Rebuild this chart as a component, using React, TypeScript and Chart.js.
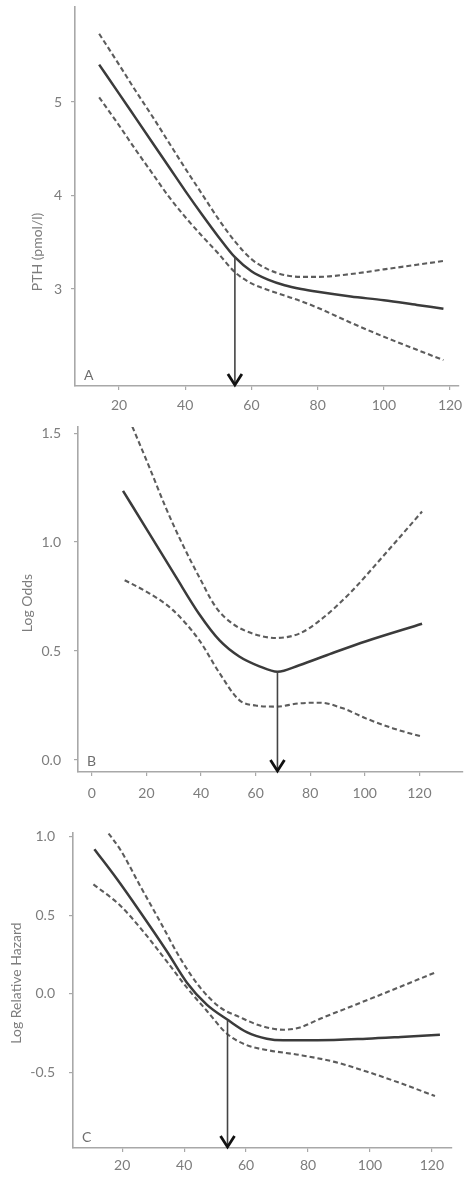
import React, { useEffect, useRef } from "react";
import { Chart, registerables } from "chart.js";

Chart.register(...registerables);

// ---------- Panel A : PTH (pmol/l) ----------
const aX = [14, 20, 25, 30, 35, 40, 45, 50, 55, 60, 65, 70, 75, 80, 90, 100, 110, 118];
const aFit = [5.40, 5.09, 4.83, 4.57, 4.31, 4.05, 3.80, 3.56, 3.34, 3.19, 3.10, 3.04, 3.00, 2.97, 2.92, 2.88, 2.83, 2.79];
const aUpper = [5.73, 5.40, 5.12, 4.85, 4.57, 4.29, 4.02, 3.75, 3.51, 3.32, 3.21, 3.15, 3.13, 3.13, 3.16, 3.21, 3.26, 3.30];
const aLower = [5.05, 4.75, 4.49, 4.24, 3.99, 3.77, 3.57, 3.38, 3.18, 3.06, 2.99, 2.93, 2.87, 2.80, 2.64, 2.49, 2.35, 2.24];
const aXTicks = [20, 40, 60, 80, 100, 120];
const aYTicks = [3, 4, 5];
const aArrow = { x: 55, y: 3.34 };

// ---------- Panel B : Log Odds ----------
const bFitX = [11.4, 21, 30.8, 39.3, 46.7, 54, 61.4, 68, 76, 88, 100.5, 121];
const bFit = [1.235, 1.04, 0.84, 0.67, 0.55, 0.475, 0.43, 0.405, 0.435, 0.49, 0.545, 0.625];
const bUpperX = [14.8, 21, 27, 33, 39.3, 45.5, 51.6, 59, 67.5, 76, 83.5, 94.5, 106.7, 121];
const bUpper = [1.53, 1.345, 1.16, 0.995, 0.84, 0.7, 0.625, 0.58, 0.56, 0.58, 0.64, 0.765, 0.935, 1.14];
const bLowerX = [12, 21, 29.5, 39.3, 46.7, 54, 60, 67.5, 76, 83.5, 92, 100.6, 110.4, 121];
const bLower = [0.825, 0.765, 0.69, 0.55, 0.4, 0.275, 0.25, 0.245, 0.26, 0.263, 0.237, 0.19, 0.145, 0.107];
const bXTicks = [0, 20, 40, 60, 80, 100, 120];
const bYTicks = [0, 0.5, 1.0, 1.5];
const bArrow = { x: 68, y: 0.405 };

// ---------- Panel C : Log Relative Hazard ----------
const cFitX = [11, 18.3, 25.8, 34.4, 40.9, 47.3, 54.3, 60.2, 66.7, 72, 83, 99, 110, 122.6];
const cFit = [0.92, 0.73, 0.52, 0.27, 0.07, -0.07, -0.17, -0.245, -0.287, -0.297, -0.297, -0.287, -0.276, -0.262];
const cUpperX = [14, 19.4, 25.8, 32.3, 38.7, 45.2, 51.6, 58.1, 64.5, 72, 77.4, 83.9, 93.5, 104.3, 121.5];
const cUpper = [1.06, 0.916, 0.686, 0.456, 0.226, 0.038, -0.088, -0.151, -0.203, -0.23, -0.215, -0.16, -0.085, 0.0, 0.138];
const cLowerX = [10.7, 19.4, 26.9, 34.4, 40.9, 47.3, 53.8, 60.2, 66.7, 77.4, 88.2, 98.9, 109.7, 121];
const cLower = [0.696, 0.56, 0.393, 0.205, 0.038, -0.109, -0.255, -0.328, -0.359, -0.391, -0.433, -0.496, -0.569, -0.652];
const cXTicks = [20, 40, 60, 80, 100, 120];
const cYTicks = [-0.5, 0, 0.5, 1.0];
const cArrow = { x: 54, y: -0.17 };

const FONT = "Lato, 'Open Sans', 'DejaVu Sans', sans-serif";
const TEXT_COLOR = "#7d7d7d";
const AXIS_COLOR = "#a8a8a8";
const FIT_COLOR = "#3b3b3b";
const CI_COLOR = "#5c5c5c";

function pts(xs: number[], ys: number[]) {
  return xs.map((x, i) => ({ x, y: ys[i] }));
}

const annotate = {
  id: "annotate",
  afterDatasetsDraw(chart: any, _args: any, opts: any) {
    const { ctx, chartArea } = chart;
    const xs = chart.scales.x;
    const ys = chart.scales.y;
    const px = xs.getPixelForValue(opts.arrowX);
    const py0 = ys.getPixelForValue(opts.arrowY);
    const py1 = chartArea.bottom - 1;
    ctx.save();
    ctx.strokeStyle = "#444";
    ctx.lineWidth = 1.6;
    ctx.beginPath();
    ctx.moveTo(px, py0);
    ctx.lineTo(px, py1);
    ctx.stroke();
    ctx.strokeStyle = "#111";
    ctx.lineWidth = 2.8;
    ctx.lineJoin = "miter";
    ctx.beginPath();
    ctx.moveTo(px - 7, py1 - 11);
    ctx.lineTo(px, py1);
    ctx.lineTo(px + 7, py1 - 11);
    ctx.stroke();
    // panel letter
    ctx.fillStyle = "#6e6e6e";
    ctx.font = `14px ${FONT}`;
    ctx.textAlign = "left";
    ctx.textBaseline = "middle";
    ctx.fillText(opts.letter, chartArea.left + 9, chartArea.bottom - 11);
    // y title
    ctx.translate(opts.titleX, opts.titleY);
    ctx.rotate(-Math.PI / 2);
    ctx.textAlign = "center";
    ctx.fillStyle = TEXT_COLOR;
    ctx.font = `14px ${FONT}`;
    ctx.fillText(opts.title, 0, 0);
    ctx.restore();
  },
};

type PanelCfg = {
  top: number;
  height: number;
  yW: number;
  padTop: number;
  padRight: number;
  xH: number;
  xMin: number;
  xMax: number;
  yMin: number;
  yMax: number;
  xTicks: number[];
  yTicks: number[];
  yFmt: (v: number) => string;
  xPad: number;
  yPad: number;
  fit: { x: number; y: number }[];
  upper: { x: number; y: number }[];
  lower: { x: number; y: number }[];
  arrow: { x: number; y: number };
  letter: string;
  title: string;
  titleX: number;
  titleY: number;
};

const panels: PanelCfg[] = [
  {
    top: 0, height: 415, yW: 75, padTop: 7, padRight: 15, xH: 29,
    xMin: 6.7, xMax: 122.7, yMin: 1.963, yMax: 6.016,
    xTicks: aXTicks, yTicks: aYTicks, yFmt: (v) => String(v),
    xPad: 7, yPad: 9,
    fit: pts(aX, aFit), upper: pts(aX, aUpper), lower: pts(aX, aLower),
    arrow: aArrow, letter: "A", title: "PTH (pmol/l)", titleX: 37, titleY: 252,
  },
  {
    top: 415, height: 395, yW: 78, padTop: 12, padRight: 11, xH: 38,
    xMin: -5.1, xMax: 136, yMin: -0.055, yMax: 1.528,
    xTicks: bXTicks, yTicks: bYTicks, yFmt: (v) => v.toFixed(1),
    xPad: 9, yPad: 13,
    fit: pts(bFitX, bFit), upper: pts(bUpperX, bUpper), lower: pts(bLowerX, bLower),
    arrow: bArrow, letter: "B", title: "Log Odds", titleX: 27, titleY: 188,
  },
  {
    top: 810, height: 372, yW: 73, padTop: 23, padRight: 22, xH: 34,
    xMin: 4.1, xMax: 126.5, yMin: -0.983, yMax: 1.023,
    xTicks: cXTicks, yTicks: cYTicks, yFmt: (v) => v.toFixed(1),
    xPad: 5, yPad: 14,
    fit: pts(cFitX, cFit), upper: pts(cUpperX, cUpper), lower: pts(cLowerX, cLower),
    arrow: cArrow, letter: "C", title: "Log Relative Hazard", titleX: 16, titleY: 173,
  },
];

function Panel({ cfg }: { cfg: PanelCfg }) {
  const ref = useRef<HTMLCanvasElement | null>(null);
  useEffect(() => {
    if (!ref.current) return;
    const ciStyle = {
      borderColor: CI_COLOR,
      borderWidth: 2.1,
      borderDash: [5, 3],
      pointRadius: 0,
      cubicInterpolationMode: "monotone" as const,
      fill: false,
    };
    const chart = new Chart(ref.current, {
      type: "line",
      data: {
        datasets: [
          { ...ciStyle, data: cfg.upper },
          { ...ciStyle, data: cfg.lower },
          {
            data: cfg.fit,
            borderColor: FIT_COLOR,
            borderWidth: 2.5,
            pointRadius: 0,
            cubicInterpolationMode: "monotone",
            fill: false,
          },
        ],
      },
      options: {
        responsive: false,
        animation: false,
        events: [],
        layout: { padding: { left: 0, top: cfg.padTop, right: cfg.padRight, bottom: 0 } },
        plugins: {
          legend: { display: false },
          tooltip: { enabled: false },
          annotate: {
            arrowX: cfg.arrow.x,
            arrowY: cfg.arrow.y,
            letter: cfg.letter,
            title: cfg.title,
            titleX: cfg.titleX,
            titleY: cfg.titleY,
          },
        } as any,
        scales: {
          x: {
            type: "linear",
            min: cfg.xMin,
            max: cfg.xMax,
            afterBuildTicks: (s: any) => {
              s.ticks = cfg.xTicks.map((v) => ({ value: v }));
            },
            afterFit: (s: any) => {
              s.height = cfg.xH;
              s.paddingLeft = 0;
              s.paddingRight = 0;
            },
            grid: { drawOnChartArea: false, drawTicks: true, tickLength: 4, color: AXIS_COLOR, lineWidth: 1.2 },
            border: { display: true, color: AXIS_COLOR, width: 1.6 },
            ticks: {
              color: TEXT_COLOR,
              font: { family: FONT, size: 14 },
              padding: cfg.xPad,
              maxRotation: 0,
              autoSkip: false,
              callback: (v: any) => String(v),
            },
          },
          y: {
            type: "linear",
            min: cfg.yMin,
            max: cfg.yMax,
            afterBuildTicks: (s: any) => {
              s.ticks = cfg.yTicks.map((v) => ({ value: v }));
            },
            afterFit: (s: any) => {
              s.width = cfg.yW;
              s.paddingTop = 0;
              s.paddingBottom = 0;
            },
            grid: { drawOnChartArea: false, drawTicks: true, tickLength: 4, color: AXIS_COLOR, lineWidth: 1.2 },
            border: { display: true, color: AXIS_COLOR, width: 1.6 },
            ticks: {
              color: TEXT_COLOR,
              font: { family: FONT, size: 14 },
              padding: cfg.yPad,
              autoSkip: false,
              callback: (v: any) => cfg.yFmt(Number(v)),
            },
          },
        },
      },
      plugins: [annotate as any],
    });
    return () => chart.destroy();
  }, [cfg]);
  return (
    <div style={{ position: "absolute", left: 0, top: cfg.top, width: 474, height: cfg.height }}>
      <canvas ref={ref} width={474} height={cfg.height} style={{ display: "block", width: 474, height: cfg.height }} />
    </div>
  );
}

export default function App() {
  return (
    <div style={{ position: "absolute", left: 0, top: 0, width: 474, height: 1182, background: "#fff" }}>
      {panels.map((p) => (
        <Panel key={p.letter} cfg={p} />
      ))}
    </div>
  );
}
